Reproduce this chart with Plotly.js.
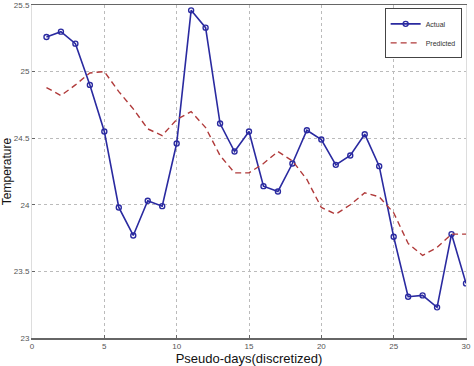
<!DOCTYPE html>
<html>
<head>
<meta charset="utf-8">
<script src="https://cdn.plot.ly/plotly-3.0.1.min.js"></script>
<style>html,body{margin:0;padding:0;background:#fff;}#chart{width:474px;height:366px;}</style>
</head>
<body>
<div id="chart"></div>
<script>
const days = [1,2,3,4,5,6,7,8,9,10,11,12,13,14,15,16,17,18,19,20,21,22,23,24,25,26,27,28,29,30];
const actual = [25.26,25.30,25.21,24.90,24.55,23.98,23.77,24.03,23.99,24.46,25.46,25.33,24.61,24.40,24.55,24.14,24.10,24.31,24.56,24.49,24.30,24.37,24.53,24.29,23.76,23.31,23.32,23.23,23.78,23.41];
const predicted = [24.88,24.82,24.90,24.99,25.00,24.85,24.72,24.57,24.52,24.64,24.70,24.58,24.37,24.24,24.24,24.31,24.40,24.33,24.19,23.98,23.93,24.00,24.09,24.06,23.94,23.71,23.62,23.68,23.78,23.78];
const xTicks = [0,5,10,15,20,25,30];
const yTicks = [23,23.5,24,24.5,25,25.5];

const traces = [
  {x: days, y: actual, name: 'Actual', type: 'scatter', mode: 'lines+markers',
   line: {color: '#2a2aa0', width: 1.6},
   marker: {symbol: 'circle-open', size: 5, color: '#2a2aa0', line: {width: 1.4, color: '#2a2aa0'}}},
  {x: days, y: predicted, name: 'Predicted', type: 'scatter', mode: 'lines',
   line: {color: '#b03a3a', width: 1.4, dash: '6px,4px'}}
];

const layout = {
  width: 474, height: 366,
  margin: {l: 32, r: 8, t: 5, b: 28},
  paper_bgcolor: '#fff', plot_bgcolor: '#fff',
  showlegend: true,
  legend: {x: 0.99, y: 0.99, xanchor: 'right', yanchor: 'top', bgcolor: '#fff',
    bordercolor: '#444', borderwidth: 1, font: {family: 'Arial, Liberation Sans, sans-serif', size: 7, color: '#333'},
    tracegroupgap: 0, itemwidth: 30, entrywidth: 40},
  xaxis: {range: [0, 30], tickvals: xTicks, ticktext: xTicks.map(String),
    showgrid: true, gridcolor: '#bbb', griddash: 'dot', gridwidth: 1,
    zeroline: false, showline: true, mirror: true, linecolor: '#666', linewidth: 1.5,
    ticks: 'inside', ticklen: 3, tickcolor: '#666',
    tickfont: {family: 'Arial, Liberation Sans, sans-serif', size: 8, color: '#555'},
    title: {text: 'Pseudo-days(discretized)', standoff: 2,
      font: {family: 'Arial, Liberation Sans, sans-serif', size: 13, color: '#111'}}},
  yaxis: {range: [23, 25.5], tickvals: yTicks, ticktext: yTicks.map(String),
    showgrid: true, gridcolor: '#bbb', griddash: 'dot', gridwidth: 1,
    zeroline: false, showline: true, mirror: true, linecolor: '#ddd', linewidth: 1,
    ticks: 'inside', ticklen: 3, tickcolor: '#666',
    tickfont: {family: 'Arial, Liberation Sans, sans-serif', size: 8, color: '#555'},
    title: {text: 'Temperature', standoff: 4,
      font: {family: 'Arial, Liberation Sans, sans-serif', size: 12, color: '#111'}}}
};

Plotly.newPlot('chart', traces, layout, {displayModeBar: false, staticPlot: true});
</script>
</body>
</html>
